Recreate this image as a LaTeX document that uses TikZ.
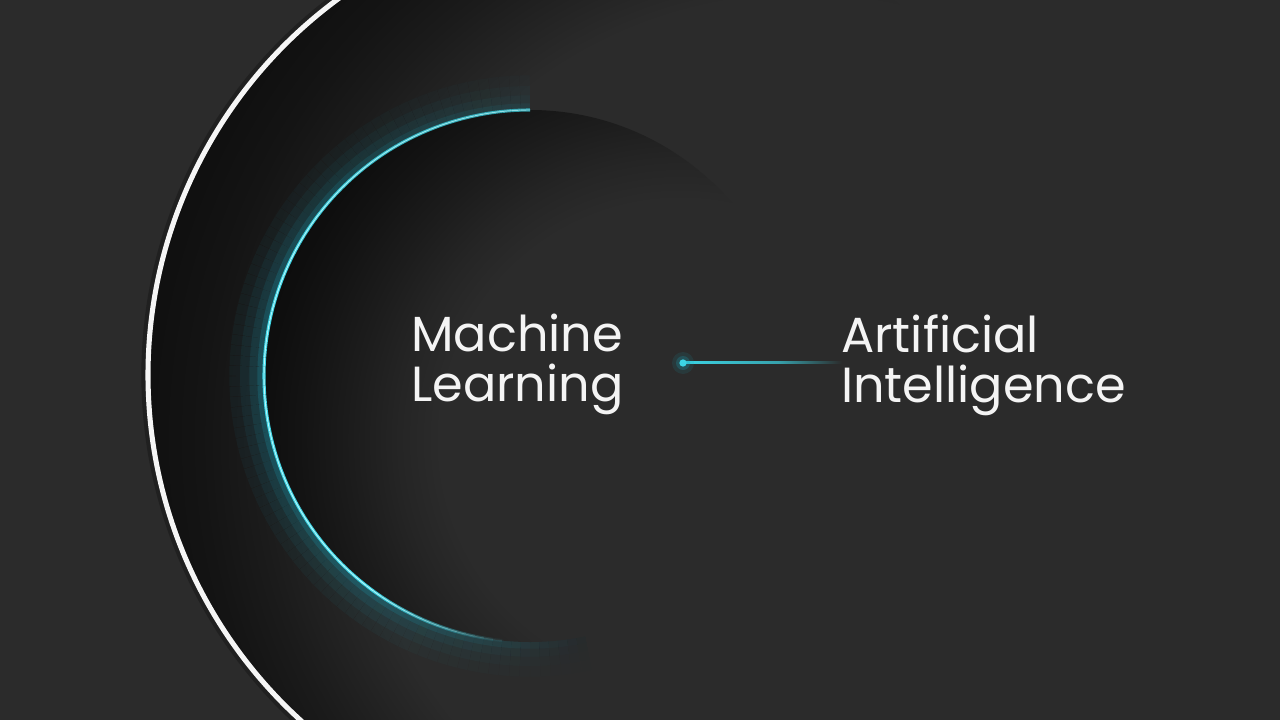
\documentclass[tikz,border=0pt]{standalone}
\usepackage{fontspec}
\setmainfont{Poppins}[Ligatures=NoCommon]
\usetikzlibrary{calc}

\definecolor{bgc}{HTML}{2B2B2B}
\definecolor{textc}{HTML}{F4F4F4}
\definecolor{cyanc}{HTML}{3CD4E4}
\definecolor{corec}{HTML}{B4F6FB}
\definecolor{glowc}{HTML}{1A9FB6}
\definecolor{ringc}{HTML}{F6F6F6}
\definecolor{shadeA}{HTML}{1B1B1B}
\definecolor{shadeB}{HTML}{141414}
\definecolor{shadeC}{HTML}{101010}
\definecolor{shadeD}{HTML}{0C0C0C}

% shadow inside the white ring (25bp = radius of the shaded circle)
\pgfdeclareradialshading{rimshade}{\pgfpoint{0bp}{0bp}}{color(0bp)=(bgc); color(15.4bp)=(bgc); color(18.9bp)=(shadeA); color(20.8bp)=(shadeB); color(22.6bp)=(shadeC); color(25bp)=(shadeD); color(50bp)=(shadeD)}
% shadow inside the cyan ring
\pgfdeclareradialshading{discshade}{\pgfpoint{0bp}{0bp}}{color(0bp)=(bgc); color(13.3bp)=(bgc); color(15.6bp)=(bgc!86!black); color(18.3bp)=(bgc!65!black); color(21.1bp)=(bgc!45!black); color(23.3bp)=(bgc!32!black); color(25bp)=(bgc!28!black); color(50bp)=(bgc!28!black)}
% fading link line (25bp = left end, 75bp = right end)
\pgfdeclarehorizontalshading{linefade}{100bp}{color(0bp)=(cyanc); color(25bp)=(cyanc); color(55bp)=(cyanc!70!bgc); color(75bp)=(bgc); color(100bp)=(bgc)}

\begin{document}
\begin{tikzpicture}[x=0.75pt,y=-0.75pt,
  labeltext/.style={text=textc, align=left, inner sep=0pt, font=\fontsize{37}{37.5}\selectfont},
  glowlayer/.style={draw=glowc, line cap=butt},
  ringline/.style={line cap=butt}]
\useasboundingbox (0,0) rectangle (1280,720);
\clip (0,0) rectangle (1280,720);
% Drawing background
\fill[bgc] (0,0) rectangle (1280,720);
% Shadow inside the white ring
\begin{scope}
\clip (615,375) circle[radius=467];
\shade[shading=rimshade] (800,440) circle[radius=720];
\end{scope}
% Glow outside the cyan ring
\foreach \a in {76,78,...,268} {
  \pgfmathsetmacro{\gop}{min(1,max(0,(\a-76)/50))*(1-0.65*max(0,(\a-200)/70))}
  \foreach \w/\o in {52/0.06,36/0.08,22/0.12,10/0.22} {
    \pgfmathsetmacro{\lo}{\o*\gop}
    \draw[glowlayer, line width=\w pt, draw opacity=\lo] ([shift=(\a:266)]530,376) arc[start angle=\a, end angle=\a+2, radius=266];
  }
}
% Dark disc inside the cyan ring
\begin{scope}
\clip (530,376) circle[radius=266];
\shade[shading=discshade] (680,440) circle[radius=450];
\end{scope}
% Cyan ring
\foreach \a in {94,96,...,268} {
  \pgfmathsetmacro{\lop}{min(1,max(0,(\a-94)/32))*(1-0.3*max(0,(\a-200)/70))}
  \draw[ringline, cyanc, line width=2.3pt, draw opacity=\lop] ([shift=(\a:266)]530,376) arc[start angle=\a, end angle=\a+2, radius=266];
  \draw[ringline, corec, line width=0.7pt, draw opacity=\lop] ([shift=(\a:266)]530,376) arc[start angle=\a, end angle=\a+2, radius=266];
}
% White ring
\draw[black, opacity=0.25, line width=7pt] ([shift=(236:469)]615,375) arc[start angle=236, end angle=126, radius=469];
\draw[ringc, line width=3.8pt] ([shift=(236:467)]615,375) arc[start angle=236, end angle=126, radius=467];
% Link between the two labels
\coordinate (dotc) at (683,363);
\coordinate (aiend) at (842,362);
\shade[shading=linefade] ($(dotc)+(0,-1.3)$) rectangle ($(aiend)+(0,1.3)$);
\fill[glowc, opacity=0.12] (dotc) circle[radius=11];
\fill[glowc, opacity=0.25] (dotc) circle[radius=7];
\node[circle, fill=cyanc, inner sep=0pt, minimum size=5.5pt] (mldot) at (dotc) {};
% Labels (base = baseline of the last line)
\node[labeltext, anchor=base west] (mllabel) at (411,401) {Machine\\Learning};
\node[labeltext, anchor=base west] (ailabel) at (841,402) {Artificial\\Intelligence};
\end{tikzpicture}
\end{document}
